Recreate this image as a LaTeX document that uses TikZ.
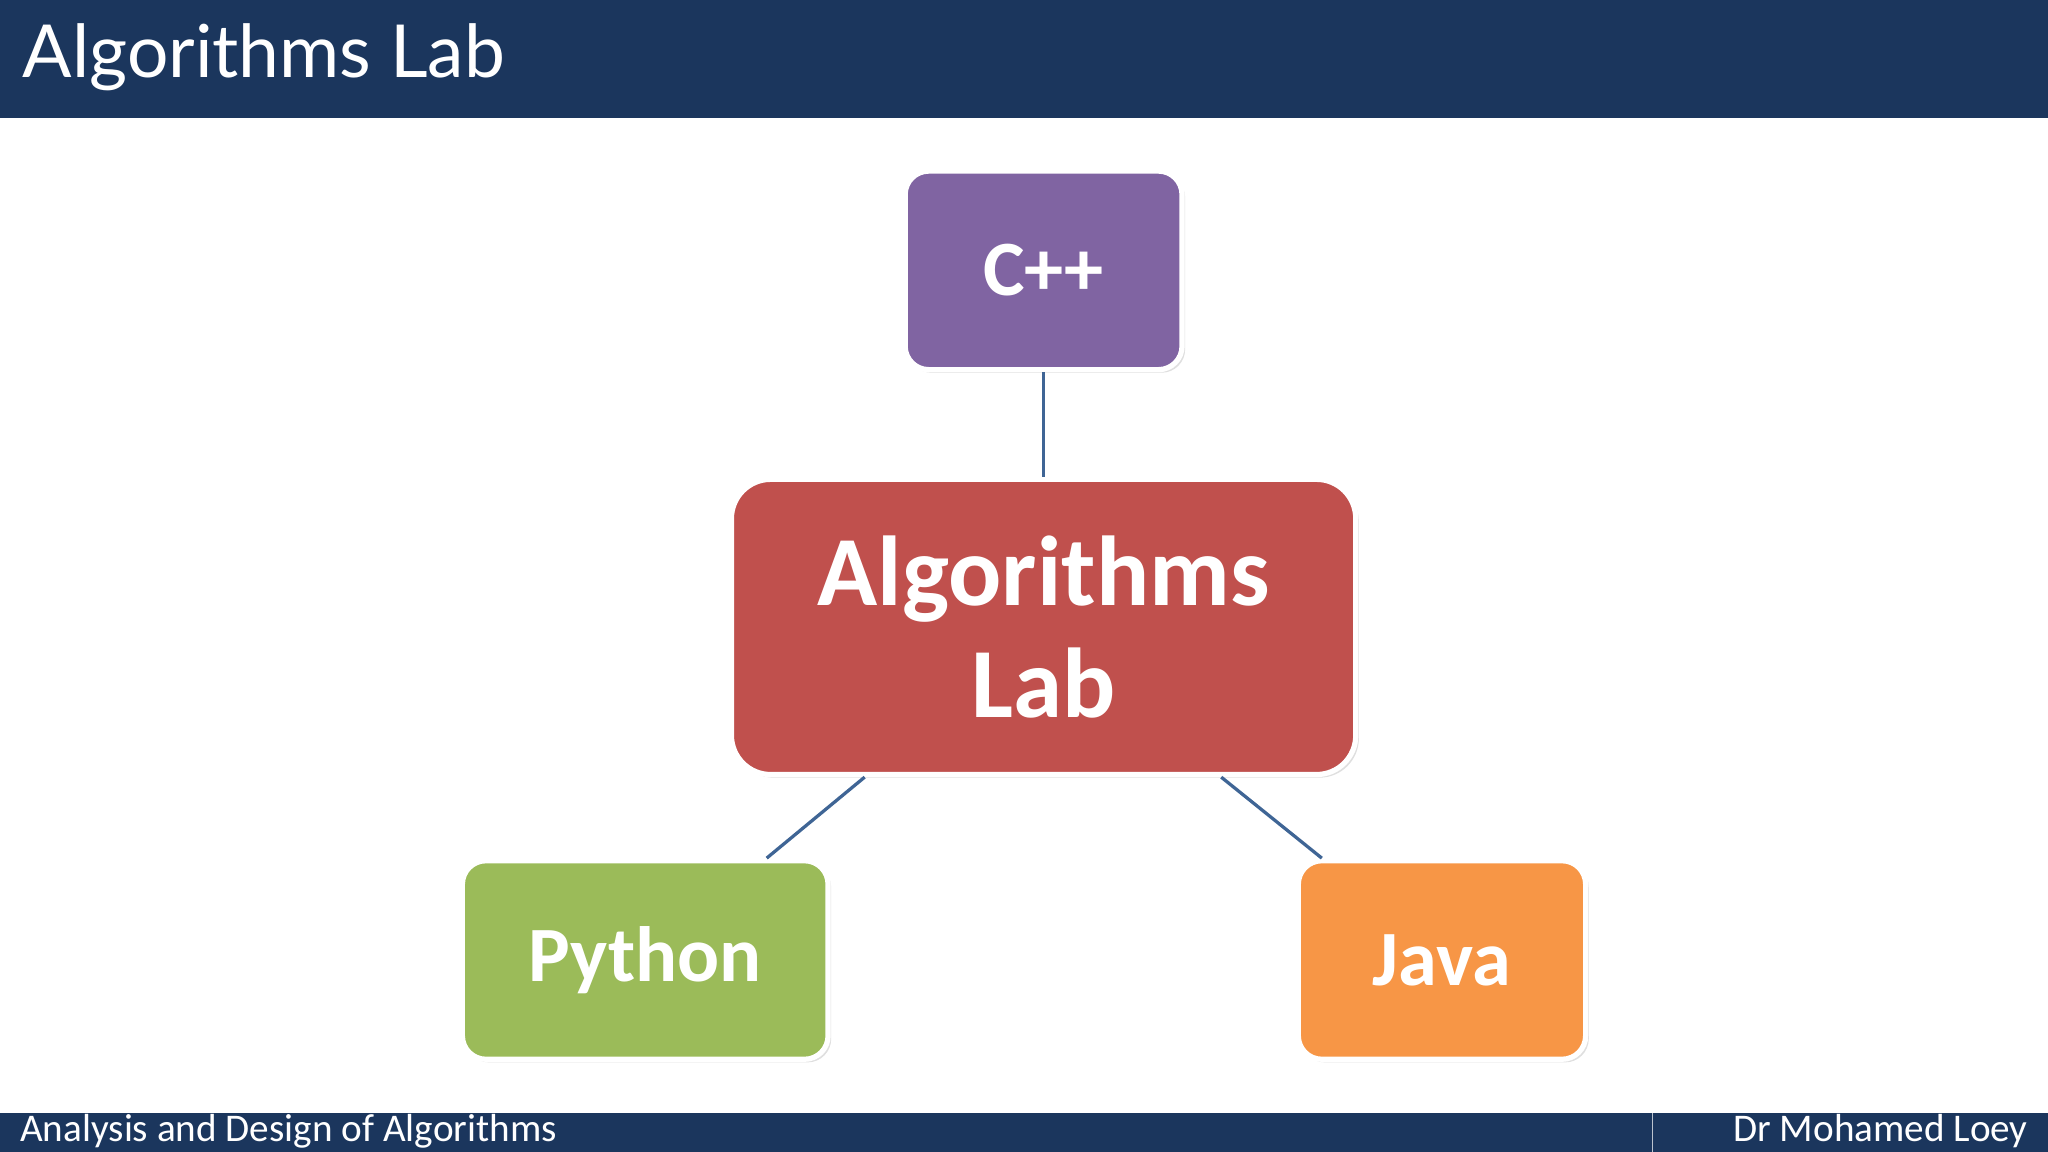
\documentclass[tikz,border=0pt]{standalone}
\usepackage{fontspec}
\setmainfont{Carlito}
\newfontfamily\titlefont{Lato}
\definecolor{barblue}{HTML}{1B365D}
\definecolor{linkblue}{HTML}{3F6595}
\definecolor{cppcol}{HTML}{8064A2}
\definecolor{labcol}{HTML}{C0504D}
\definecolor{pycol}{HTML}{9BBB59}
\definecolor{javacol}{HTML}{F79646}
\tikzset{
  topicbox/.style={draw=white, line width=4pt, rounded corners=18pt, text=white,
    font=\bfseries\fontsize{60}{64}\selectfont, align=center, inner sep=0pt,
    drop shadow={opacity=0.25}},
  link/.style={draw=linkblue, line width=2.5pt}
}
\usetikzlibrary{shadows}
\begin{document}
\begin{tikzpicture}[x=1pt,y=-1pt]
\useasboundingbox (0,0) rectangle (1568,882);
% bars
\fill[barblue] (0,0) rectangle (1568,90);
\fill[barblue] (0,852) rectangle (1568,882);
\draw[white!70!barblue, line width=1pt] (1265,852) -- (1265,882);
\node[anchor=west, text=white, font=\titlefont\fontsize{56}{60}\selectfont] (title) at (14,44) {Algorithms Lab};
\node[anchor=base west, text=white, font=\fontsize{30}{32}\selectfont] (course) at (12,874) {Analysis and Design of Algorithms};
\node[anchor=base east, text=white, font=\fontsize{30}{32}\selectfont] (author) at (1556,874) {Dr Mohamed Loey};
% boxes
\node[topicbox, fill=cppcol, minimum width=212pt, minimum height=152pt] (cpp) at (799,207) {C++};
\node[topicbox, fill=labcol, minimum width=478pt, minimum height=226pt, rounded corners=30pt,
  font=\bfseries\fontsize{76}{86}\selectfont] (lab) at (799,480) {Algorithms\\Lab};
\node[topicbox, fill=pycol, minimum width=280pt, minimum height=152pt] (python) at (494,735) {Python};
\node[topicbox, fill=javacol, minimum width=220pt, minimum height=152pt] (java) at (1104,735) {Java};
% links
\draw[link] (cpp.south) -- (lab.north);
\draw[link] ([xshift=-137pt]lab.south) -- ([xshift=93pt]python.north);
\draw[link] ([xshift=136pt]lab.south) -- ([xshift=-92pt]java.north);
\end{tikzpicture}
\end{document}
